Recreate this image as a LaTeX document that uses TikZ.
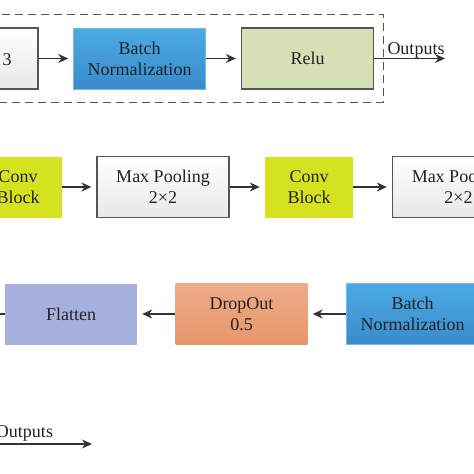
\documentclass[tikz,border=0pt]{standalone}
\usepackage{fontspec}
\setmainfont{Liberation Serif}
\usetikzlibrary{arrows.meta,fit}
\definecolor{bordergray}{HTML}{555555}
\definecolor{arrowgray}{HTML}{333333}
\definecolor{bluetop}{HTML}{4BAAE3}
\definecolor{bluebot}{HTML}{3A8BCB}
\definecolor{reluc}{HTML}{D5E0B6}
\definecolor{limec}{HTML}{D5E21F}
\definecolor{flatc}{HTML}{A6B0DD}
\definecolor{droptop}{HTML}{EDAC88}
\definecolor{dropbot}{HTML}{E8966B}
\definecolor{textc}{HTML}{222222}
\begin{document}
\begin{tikzpicture}[x=1pt,y=-1pt,
  box/.style={minimum height=61pt, inner sep=0pt, align=center,
    font=\fontsize{18}{21}\selectfont, text=textc},
  wide/.style={box, minimum width=132pt},
  narrow/.style={box, minimum width=88pt},
  graybox/.style={wide, draw=bordergray, line width=1.3pt, top color=white, bottom color=black!9},
  bluebox/.style={wide, draw=bluetop!80!white, line width=0.6pt, top color=bluetop, bottom color=bluebot},
  relubox/.style={wide, draw=bordergray, line width=1.3pt, fill=reluc},
  limebox/.style={narrow, fill=limec},
  flatbox/.style={wide, fill=flatc},
  dropbox/.style={wide, top color=droptop, bottom color=dropbot},
  lbl/.style={font=\fontsize{18}{21}\selectfont, text=textc, inner sep=0pt},
  conn/.style={draw=arrowgray, line width=1.2pt, -{Stealth[length=10pt,width=9pt]}},
  gapconn/.style={conn, shorten >=5pt},
  dashbox/.style={draw=bordergray, line width=1.3pt, dash pattern=on 8pt off 5pt},
]
\useasboundingbox (0,0) rectangle (474,474);
% Row 1
\node[graybox, minimum width=133pt] (c3) at (-28.5,58.5) {};
\node[lbl] (t3) at (7,60) {3};
\node[bluebox] (bn1) at (139.5,58.5) {Batch\\Normalization};
\node[relubox] (relu) at (307.5,58.5) {Relu};
\node[dashbox, fit=(c3)(relu), inner xsep=9pt, inner ysep=13pt] (grp) {};
\coordinate (out1) at (445,58.5);
\draw[gapconn] (c3.east) -- (bn1.west);
\draw[gapconn] (bn1.east) -- (relu.west);
\draw[conn] (relu.east) -- (out1);
\node[lbl, anchor=base] (o1txt) at (416,54) {Outputs};
% Row 2
\node[limebox] (cb1) at (18,187) {Conv\\Block};
\node[graybox] (mp1) at (163,187) {Max Pooling\\2×2};
\node[limebox] (cb2) at (309,187) {Conv\\Block};
\node[graybox] (mp2) at (458.5,187) {Max Pooling\\2×2};
\draw[gapconn] (cb1.east) -- (mp1.west);
\draw[gapconn] (mp1.east) -- (cb2.west);
\draw[gapconn] (cb2.east) -- (mp2.west);
% Row 3
\node[flatbox] (flat) at (71,314) {Flatten};
\node[dropbox] (drop) at (241.5,314) {DropOut\\0.5};
\node[bluebox] (bn2) at (412.5,314) {Batch\\Normalization};
\coordinate (flatout) at (-30,314);
\draw[gapconn] (bn2.west) -- (drop.east);
\draw[gapconn] (drop.west) -- (flat.east);
\draw[conn] (flat.west) -- (flatout);
% Row 4
\coordinate (o2s) at (-30,444);
\coordinate (o2e) at (92,444);
\draw[conn] (o2s) -- (o2e);
\node[lbl, anchor=base] (o2txt) at (24.5,437) {Outputs};
\end{tikzpicture}
\end{document}
